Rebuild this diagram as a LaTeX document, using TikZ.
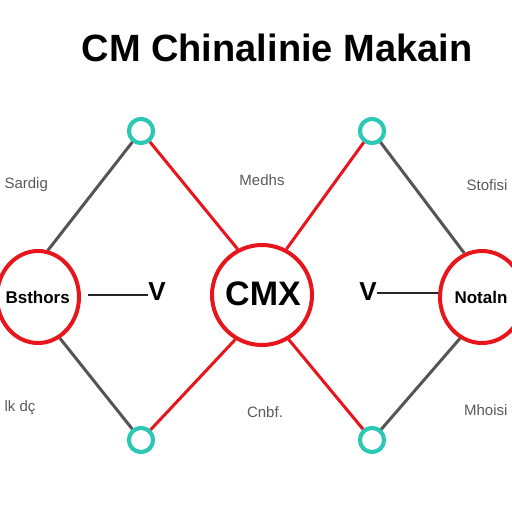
\documentclass[tikz,border=0pt]{standalone}
\usepackage{fontspec}
\setmainfont{Liberation Sans}
\usetikzlibrary{shapes.geometric}
\definecolor{cmred}{HTML}{E8161C}
\definecolor{cmcyan}{HTML}{2CC8B6}
\definecolor{cmgray}{HTML}{555555}
\definecolor{cmlabel}{HTML}{5A5A5A}
\tikzset{
  hub/.style={circle, draw=cmcyan, line width=4pt, fill=white, minimum size=24pt, inner sep=0pt},
  ring/.style={ellipse, draw=cmred, line width=4pt, fill=white, inner sep=0pt},
  redline/.style={draw=cmred, line width=3pt},
  grayline/.style={draw=cmgray, line width=3pt},
  arrowline/.style={draw=black!85, line width=2pt},
  lbl/.style={text=cmlabel, font=\fontsize{15}{18}\selectfont},
  vmark/.style={font=\bfseries\fontsize{26}{28}\selectfont, inner sep=0pt}
}
\begin{document}
\begin{tikzpicture}[x=1pt,y=-1pt]
\useasboundingbox (0,0) rectangle (512,512);
\fill[white] (0,0) rectangle (512,512);
\node[font=\bfseries\fontsize{38}{40}\selectfont] (title) at (277,48) {CM Chinalinie Makain};
% rings
\node[ring, minimum width=82pt, minimum height=92pt] (L) at (38,297) {};
\node[font=\bfseries\fontsize{17}{20}\selectfont, anchor=west] (Lt) at (2,297) {Bsthors};
\node[ring, circle, minimum size=100pt] (C) at (262,295) {};
\node[font=\bfseries\fontsize{34}{36}\selectfont] (Ct) at (263,294) {CMX};
\node[ring, minimum width=84pt, minimum height=92pt] (R) at (482,297) {};
\node[font=\bfseries\fontsize{17}{20}\selectfont, anchor=west] (Rt) at (451,297) {Notaln};
% hubs
\node[hub] (h1) at (141,131) {};
\node[hub] (h2) at (372,131) {};
\node[hub] (h3) at (141,440) {};
\node[hub] (h4) at (372,440) {};
% connectors
\draw[grayline] (h1) -- (L.78);
\draw[redline] (h1) -- (C.118);
\draw[redline] (h2) -- (C.62);
\draw[grayline] (h2) -- (R.112);
\draw[grayline] (h3) -- (L.-62);
\draw[redline] (h3) -- (C.-121);
\draw[redline] (h4) -- (C.-59);
\draw[grayline] (h4) -- (R.-118);
% redraw hubs above lines
\node[hub] at (141,131) {};
\node[hub] at (372,131) {};
\node[hub] at (141,440) {};
\node[hub] at (372,440) {};
% arrows
\node[vmark] (vl) at (157,292) {V};
\coordinate (la) at (88,295);
\draw[arrowline] (la) -- (vl.west |- la);
\node[vmark] (vr) at (368,292) {V};
\draw[arrowline] (vr.east |- 0,293) -- (R.west |- 0,293);
% labels
\node[lbl, anchor=west] (l1) at (1,185) {Sardig};
\node[lbl] (l2) at (262,180) {Medhs};
\node[lbl, anchor=east] (l3) at (511,185) {Stofisi};
\node[lbl, anchor=west] (l4) at (1,408) {lk dç};
\node[lbl] (l5) at (265,412) {Cnbf.};
\node[lbl, anchor=east] (l6) at (511,410) {Mhoisi};
\end{tikzpicture}
\end{document}
